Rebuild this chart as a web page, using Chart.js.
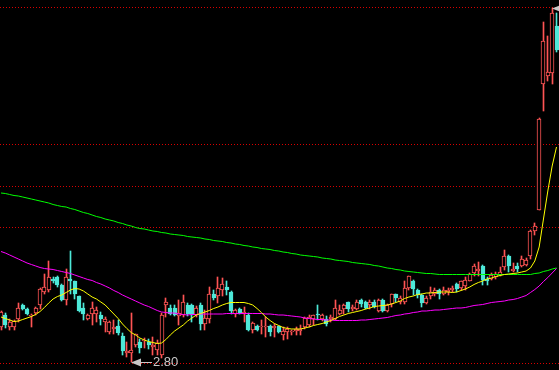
<!DOCTYPE html>
<html lang="en">
<head>
    <meta charset="UTF-8">
    <title>K-line</title>
    <script src="https://cdn.jsdelivr.net/npm/chart.js"></script>
    <style>
        html, body {
            margin: 0;
            padding: 0;
            background: #000;
            overflow: hidden;
        }
        #wrap {
            width: 559px;
            height: 370px;
            position: relative;
        }
    </style>
</head>
<body>
    <div id="wrap"><canvas id="kline"></canvas></div>

    <script>
        // Daily candles, oldest first
        const opens = [
            3.51, 3.74, 3.50, 3.50, 3.66, 3.94, 3.87, 3.72, 3.78, 3.93,
            4.19, 4.24, 4.47, 4.51, 4.35, 4.04, 4.47, 4.41, 4.11, 3.89,
            3.66, 3.77, 3.77, 3.75, 3.61, 3.40, 3.46, 3.53, 3.33, 2.99,
            2.99, 3.14, 3.21, 3.22, 3.21, 3.10, 3.04, 2.94, 3.93, 3.89,
            3.89, 3.73, 3.74, 3.94, 3.94, 3.74, 3.94, 3.57, 3.67, 4.17,
            4.11, 4.25, 4.31, 4.21, 3.76, 3.87, 3.77, 3.74, 3.45, 3.52,
            3.50, 3.50, 3.52, 3.49, 3.52, 3.35, 3.40, 3.40, 3.42, 3.42,
            3.51, 3.54, 3.67, 3.77, 3.67, 3.67, 3.66, 3.67, 3.77, 3.86,
            4.00, 3.87, 3.86, 4.04, 4.00, 3.93, 4.01, 3.83, 4.04, 3.83,
            3.97, 4.16, 4.01, 4.01, 4.29, 4.43, 4.25, 4.14, 3.99, 4.11,
            4.16, 4.25, 4.17, 4.19, 4.23, 4.36, 4.29, 4.32, 4.43, 4.57,
            4.62, 4.72, 4.47, 4.47, 4.51, 4.54, 4.71, 4.92, 4.63, 4.72,
            4.72, 4.74, 4.91, 5.41, 5.85, 8.37, 8.52, 8.59, 9.51
        ];
        const closes = [
            3.81, 3.54, 3.60, 3.62, 3.89, 3.87, 3.77, 3.74, 3.88, 4.26,
            4.30, 4.51, 4.41, 4.34, 4.04, 4.51, 4.41, 4.17, 3.82, 3.77,
            3.74, 3.89, 3.84, 3.66, 3.67, 3.60, 3.51, 3.39, 3.02, 3.02,
            3.04, 3.36, 3.09, 3.24, 3.14, 3.14, 3.18, 3.74, 4.00, 3.77,
            3.74, 3.78, 4.00, 3.77, 3.74, 3.88, 3.57, 3.68, 4.16, 4.09,
            4.29, 4.36, 4.24, 3.83, 3.84, 3.77, 3.79, 3.44, 3.59, 3.44,
            3.52, 3.53, 3.41, 3.52, 3.41, 3.42, 3.46, 3.42, 3.46, 3.47,
            3.69, 3.71, 3.74, 3.74, 3.74, 3.57, 3.71, 3.89, 3.84, 3.94,
            3.86, 3.91, 4.01, 3.97, 3.89, 4.00, 3.91, 4.04, 3.83, 3.94,
            4.16, 4.09, 4.09, 4.29, 4.52, 4.27, 4.14, 3.99, 4.09, 4.21,
            4.25, 4.16, 4.24, 4.25, 4.29, 4.27, 4.41, 4.44, 4.56, 4.72,
            4.66, 4.44, 4.43, 4.54, 4.56, 4.61, 4.92, 4.72, 4.67, 4.67,
            4.87, 4.85, 5.43, 5.52, 7.66, 9.22, 8.61, 9.77, 9.04
        ];
        const highs = [
            3.83, 3.78, 3.66, 3.64, 3.98, 3.97, 3.89, 3.76, 3.91, 4.29,
            4.56, 4.82, 4.51, 4.53, 4.37, 4.66, 5.02, 4.42, 4.12, 3.98,
            3.77, 4.01, 3.91, 3.81, 3.71, 3.62, 3.64, 3.64, 3.38, 3.21,
            3.78, 3.37, 3.27, 3.28, 3.27, 3.31, 3.24, 3.78, 4.08, 3.94,
            3.93, 4.04, 4.14, 3.98, 3.97, 3.92, 3.99, 3.84, 4.31, 4.24,
            4.51, 4.48, 4.41, 4.22, 3.87, 3.88, 3.91, 3.78, 3.61, 3.54,
            3.64, 3.71, 3.54, 3.57, 3.53, 3.51, 3.51, 3.44, 3.51, 3.54,
            3.71, 3.74, 3.75, 3.93, 3.77, 3.73, 3.74, 4.04, 3.94, 3.97,
            4.01, 3.94, 4.04, 4.07, 4.02, 4.04, 4.03, 4.07, 4.07, 3.95,
            4.17, 4.17, 4.11, 4.41, 4.53, 4.44, 4.27, 4.16, 4.12, 4.31,
            4.29, 4.26, 4.31, 4.29, 4.32, 4.39, 4.43, 4.51, 4.57, 4.76,
            4.80, 4.74, 4.50, 4.57, 4.61, 4.71, 5.04, 4.94, 4.79, 4.79,
            4.91, 4.88, 5.44, 5.57, 7.68, 9.60, 9.32, 9.88, 9.78
        ];
        const lows = [
            3.44, 3.48, 3.44, 3.44, 3.60, 3.84, 3.75, 3.50, 3.74, 3.86,
            4.16, 4.21, 4.39, 4.31, 4.02, 3.94, 4.17, 4.07, 3.81, 3.64,
            3.64, 3.54, 3.61, 3.54, 3.40, 3.37, 3.37, 3.34, 2.94, 2.91,
            2.80, 3.11, 2.99, 3.08, 3.07, 2.94, 2.94, 2.88, 3.70, 3.74,
            3.73, 3.54, 3.70, 3.72, 3.61, 3.71, 3.44, 3.44, 3.58, 4.04,
            3.98, 4.11, 4.14, 3.77, 3.71, 3.76, 3.61, 3.43, 3.39, 3.43,
            3.37, 3.31, 3.32, 3.31, 3.38, 3.24, 3.27, 3.34, 3.34, 3.34,
            3.47, 3.51, 3.54, 3.64, 3.62, 3.53, 3.61, 3.64, 3.74, 3.77,
            3.81, 3.82, 3.84, 3.91, 3.86, 3.87, 3.88, 3.79, 3.81, 3.81,
            3.91, 4.01, 3.97, 3.97, 4.24, 4.14, 4.09, 3.91, 3.97, 4.07,
            4.11, 4.07, 4.14, 4.14, 4.19, 4.21, 4.24, 4.24, 4.41, 4.52,
            4.52, 4.34, 4.34, 4.44, 4.47, 4.52, 4.64, 4.61, 4.59, 4.61,
            4.71, 4.72, 4.87, 5.34, 5.84, 7.81, 8.41, 8.37, 9.00
        ];

        // Moving averages as shown (short, mid, long)
        const maShort = [
            3.70, 3.67, 3.64, 3.61, 3.62, 3.65, 3.68, 3.71, 3.75, 3.81,
            3.89, 3.98, 4.06, 4.11, 4.14, 4.19, 4.24, 4.27, 4.26, 4.22,
            4.16, 4.10, 4.06, 4.00, 3.94, 3.85, 3.76, 3.67, 3.56, 3.47,
            3.39, 3.34, 3.28, 3.24, 3.21, 3.19, 3.17, 3.18, 3.25, 3.34,
            3.42, 3.48, 3.54, 3.62, 3.68, 3.74, 3.77, 3.80, 3.83, 3.87,
            3.90, 3.94, 3.97, 3.99, 3.99, 3.99, 3.99, 3.97, 3.94, 3.87,
            3.79, 3.70, 3.63, 3.57, 3.53, 3.49, 3.47, 3.46, 3.46, 3.46,
            3.48, 3.50, 3.53, 3.55, 3.57, 3.60, 3.63, 3.67, 3.71, 3.74,
            3.77, 3.79, 3.81, 3.83, 3.86, 3.88, 3.91, 3.92, 3.93, 3.94,
            3.96, 3.99, 4.02, 4.07, 4.10, 4.12, 4.15, 4.16, 4.18, 4.18,
            4.19, 4.20, 4.20, 4.20, 4.19, 4.20, 4.23, 4.26, 4.30, 4.35,
            4.39, 4.42, 4.46, 4.48, 4.51, 4.53, 4.55, 4.56, 4.57, 4.58,
            4.60, 4.62, 4.68, 4.82, 5.10, 5.66, 6.22, 6.72, 7.10
        ];
        const maMid = [
            5.01, 4.98, 4.94, 4.90, 4.86, 4.82, 4.78, 4.75, 4.72, 4.69,
            4.67, 4.66, 4.65, 4.63, 4.61, 4.59, 4.57, 4.54, 4.51, 4.48,
            4.45, 4.43, 4.39, 4.36, 4.32, 4.28, 4.23, 4.19, 4.14, 4.10,
            4.06, 4.02, 3.98, 3.94, 3.91, 3.87, 3.83, 3.80, 3.79, 3.78,
            3.78, 3.76, 3.75, 3.74, 3.75, 3.75, 3.76, 3.76, 3.76, 3.76,
            3.76, 3.76, 3.77, 3.77, 3.77, 3.77, 3.77, 3.77, 3.77, 3.77,
            3.77, 3.76, 3.76, 3.75, 3.74, 3.74, 3.73, 3.72, 3.71, 3.70,
            3.68, 3.67, 3.66, 3.65, 3.65, 3.64, 3.64, 3.63, 3.63, 3.63,
            3.63, 3.63, 3.63, 3.64, 3.64, 3.65, 3.66, 3.67, 3.68, 3.69,
            3.71, 3.73, 3.74, 3.76, 3.77, 3.79, 3.80, 3.82, 3.82, 3.83,
            3.84, 3.84, 3.85, 3.86, 3.87, 3.88, 3.88, 3.89, 3.91, 3.93,
            3.94, 3.95, 3.97, 3.99, 4.00, 4.01, 4.02, 4.04, 4.05, 4.07,
            4.10, 4.13, 4.19, 4.25, 4.32, 4.41, 4.49, 4.58, 4.67
        ];
        const maLong = [
            6.18, 6.17, 6.15, 6.13, 6.12, 6.10, 6.08, 6.06, 6.04, 6.02,
            6.00, 5.98, 5.95, 5.93, 5.91, 5.90, 5.87, 5.85, 5.82, 5.79,
            5.77, 5.74, 5.71, 5.69, 5.66, 5.64, 5.62, 5.59, 5.57, 5.54,
            5.52, 5.49, 5.47, 5.46, 5.44, 5.42, 5.41, 5.39, 5.38, 5.36,
            5.35, 5.34, 5.33, 5.31, 5.30, 5.29, 5.28, 5.26, 5.25, 5.23,
            5.22, 5.21, 5.19, 5.18, 5.16, 5.15, 5.13, 5.12, 5.10, 5.09,
            5.07, 5.06, 5.05, 5.03, 5.02, 5.00, 4.99, 4.97, 4.96, 4.94,
            4.93, 4.92, 4.91, 4.90, 4.88, 4.87, 4.86, 4.84, 4.83, 4.82,
            4.81, 4.79, 4.78, 4.77, 4.76, 4.75, 4.73, 4.72, 4.70, 4.68,
            4.67, 4.65, 4.64, 4.62, 4.61, 4.60, 4.59, 4.58, 4.57, 4.57,
            4.56, 4.55, 4.55, 4.55, 4.55, 4.55, 4.55, 4.55, 4.55, 4.55,
            4.55, 4.55, 4.55, 4.55, 4.55, 4.55, 4.55, 4.55, 4.55, 4.55,
            4.55, 4.55, 4.55, 4.57, 4.58, 4.61, 4.63, 4.66, 4.68
        ];

        // Horizontal price levels of the dotted grid
        const gridLevels = [9.88, 7.15, 6.31, 5.49, 2.77];

        const UP = '#ff5454';
        const DOWN = '#4de8d8';

        const labels = opens.map((_, i) => i + 1);
        const isUp = opens.map((o, i) => closes[i] >= o);
        const bodies = opens.map((o, i) => [o, closes[i]]);
        const wicks = lows.map((l, i) => [l, highs[i]]);

        // dotted red grid behind everything
        const gridPlugin = {
            id: 'dottedGrid',
            beforeDatasetsDraw(chart) {
                const { ctx, scales: { y } } = chart;
                ctx.save();
                ctx.strokeStyle = '#d80000';
                ctx.lineWidth = 1;
                ctx.setLineDash([1, 2]);
                gridLevels.forEach(v => {
                    const py = Math.floor(y.getPixelForValue(v)) + 0.5;
                    ctx.beginPath();
                    ctx.moveTo(0, py);
                    ctx.lineTo(chart.width, py);
                    ctx.stroke();
                });
                ctx.restore();
            }
        };

        // snap candle bars to whole pixels so they look crisp
        const snapPlugin = {
            id: 'snapBars',
            beforeDatasetsDraw(chart) {
                chart.data.datasets.forEach((ds, di) => {
                    if (ds.type === 'line') return;
                    const meta = chart.getDatasetMeta(di);
                    meta.data.forEach(el => {
                        if (ds.barThickness === 1) {
                            el.x = Math.floor(el.x) + 0.5;
                        } else {
                            el.x = Math.round(el.x);
                        }
                        el.y = Math.round(el.y);
                        el.base = Math.round(el.base);
                        if (Math.abs(el.base - el.y) < 1) el.base = el.y + 1;
                    });
                });
            }
        };

        // arrow + price label at lowest low and highest high
        function drawMark(chart, idx, value) {
            const { ctx, scales: { x, y } } = chart;
            const px = Math.round(x.getPixelForValue(idx));
            const py = Math.round(y.getPixelForValue(value)) + 0.5;
            ctx.save();
            ctx.fillStyle = '#c8c8c8';
            ctx.strokeStyle = '#c8c8c8';
            ctx.lineWidth = 1;
            ctx.beginPath();
            ctx.moveTo(px, py);
            ctx.lineTo(px + 10, py - 4);
            ctx.lineTo(px + 10, py + 4);
            ctx.closePath();
            ctx.fill();
            ctx.beginPath();
            ctx.moveTo(px + 10, py);
            ctx.lineTo(px + 21, py);
            ctx.stroke();
            ctx.font = '13px "Liberation Sans", Arial, sans-serif';
            ctx.textBaseline = 'middle';
            ctx.fillText(value.toFixed(2), px + 22, py);
            ctx.restore();
        }

        const markPlugin = {
            id: 'extremes',
            afterDatasetsDraw(chart) {
                const lo = Math.min(...lows);
                const hi = Math.max(...highs);
                drawMark(chart, lows.indexOf(lo), lo);
                drawMark(chart, highs.indexOf(hi), hi);
            }
        };

        const lineSet = (data, color) => ({
            type: 'line',
            data: data,
            borderColor: color,
            borderWidth: 1,
            pointRadius: 0,
            tension: 0,
            fill: false,
            order: 0
        });

        new Chart(document.getElementById('kline'), {
            type: 'bar',
            data: {
                labels: labels,
                datasets: [
                    lineSet(maShort, '#ffff00'),
                    lineSet(maMid, '#ff00ff'),
                    lineSet(maLong, '#00ff00'),
                    {
                        data: bodies,
                        backgroundColor: isUp.map(u => u ? '#000' : DOWN),
                        borderColor: isUp.map(u => u ? UP : DOWN),
                        borderWidth: 1,
                        borderSkipped: false,
                        barThickness: 4,
                        grouped: false,
                        clip: false,
                        order: 1
                    },
                    {
                        data: wicks,
                        backgroundColor: isUp.map(u => u ? UP : DOWN),
                        borderWidth: 0,
                        barThickness: 1,
                        grouped: false,
                        clip: false,
                        order: 2
                    }
                ]
            },
            options: {
                responsive: true,
                maintainAspectRatio: false,
                animation: false,
                devicePixelRatio: 1,
                events: [],
                layout: { padding: { left: 1, right: 2.5, top: 0, bottom: 0 } },
                scales: {
                    x: { display: false, offset: false },
                    y: { display: false, min: 2.64, max: 10.04 }
                },
                plugins: {
                    legend: { display: false },
                    tooltip: { enabled: false }
                }
            },
            plugins: [gridPlugin, snapPlugin, markPlugin]
        });
    </script>
</body>
</html>
